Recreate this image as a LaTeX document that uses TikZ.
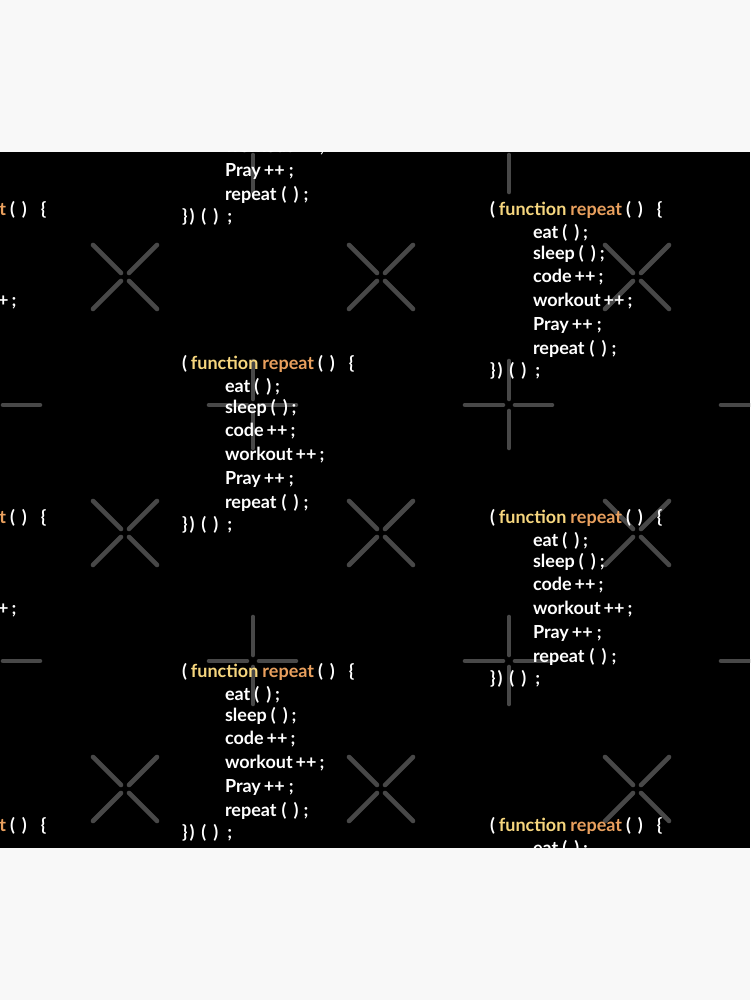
\documentclass[tikz,border=0pt]{standalone}
\usepackage{fontspec}
\setmainfont{Lato}
\definecolor{paper}{HTML}{F8F8F8}
\definecolor{mark}{HTML}{484848}
\definecolor{fnyellow}{HTML}{F6D67E}
\definecolor{fnorange}{HTML}{E9A05E}
\tikzset{
  codeline/.style={anchor=base west,inner sep=0pt,outer sep=0pt,text=white,font=\fontsize{18}{18}\selectfont\bfseries},
  markline/.style={draw=mark,line width=4.6pt,line cap=round},
}
\newcommand{\gp}[1]{\hspace{#1pt}}
\newcommand{\codeblock}[3]{%
  \node[codeline] (#3a) at (#1,#2) {(\gp{4}\textcolor{fnyellow}{function}\gp{4}\textcolor{fnorange}{repeat}\gp{4}(\gp{7})\gp{14}\{};
  \node[codeline] (#3b) at (#1+43,#2-23) {eat\gp{4}(\gp{7})\gp{4};};
  \node[codeline] (#3c) at (#1+43,#2-44) {sleep\gp{4}(\gp{7})\gp{4};};
  \node[codeline] (#3d) at (#1+43,#2-67) {code\gp{3}++\gp{3};};
  \node[codeline] (#3e) at (#1+43,#2-91) {workout\gp{3}++\gp{3};};
  \node[codeline] (#3f) at (#1+43,#2-115) {Pray\gp{3}++\gp{4};};
  \node[codeline] (#3g) at (#1+43,#2-139) {repeat\gp{5}(\gp{7})\gp{5};};
  \node[codeline] (#3h) at (#1,#2-161) {\}\gp{2})\gp{7}(\gp{7})\gp{9};};
}
\newcommand{\plusmark}[2]{%
  \draw[markline] (#1-44,#2) -- (#1-6,#2);
  \draw[markline] (#1+6,#2) -- (#1+43,#2);
  \draw[markline] (#1,#2-43) -- (#1,#2-6);
  \draw[markline] (#1,#2+6) -- (#1,#2+44);
}
\newcommand{\crossmark}[2]{%
  \draw[markline] (#1-32,#2+32) -- (#1-4,#2+4);
  \draw[markline] (#1+32,#2+32) -- (#1+4,#2+4);
  \draw[markline] (#1-32,#2-32) -- (#1-4,#2-4);
  \draw[markline] (#1+32,#2-32) -- (#1+4,#2-4);
}
\begin{document}
\begin{tikzpicture}[x=1pt,y=1pt]
\useasboundingbox (0,0) rectangle (750,1000);
\fill[paper] (0,0) rectangle (750,1000);
\begin{scope}
\clip (0,152) rectangle (750,848);
\fill[black] (0,152) rectangle (750,848);
\foreach \px in {-3,253,509,765} \foreach \py in {851,595,339} {\plusmark{\px}{\py}}
\foreach \cx in {125,381,637} \foreach \cy in {723,467,211} {\crossmark{\cx}{\cy}}
\codeblock{182}{938}{ba}
\codeblock{182}{630}{bb}
\codeblock{182}{322}{bc}
\codeblock{490}{784}{ca}
\codeblock{490}{476}{cb}
\codeblock{490}{168}{cc}
\codeblock{-126}{784}{aa}
\codeblock{-126}{476}{ab}
\codeblock{-126}{168}{ac}
\end{scope}
\end{tikzpicture}
\end{document}
